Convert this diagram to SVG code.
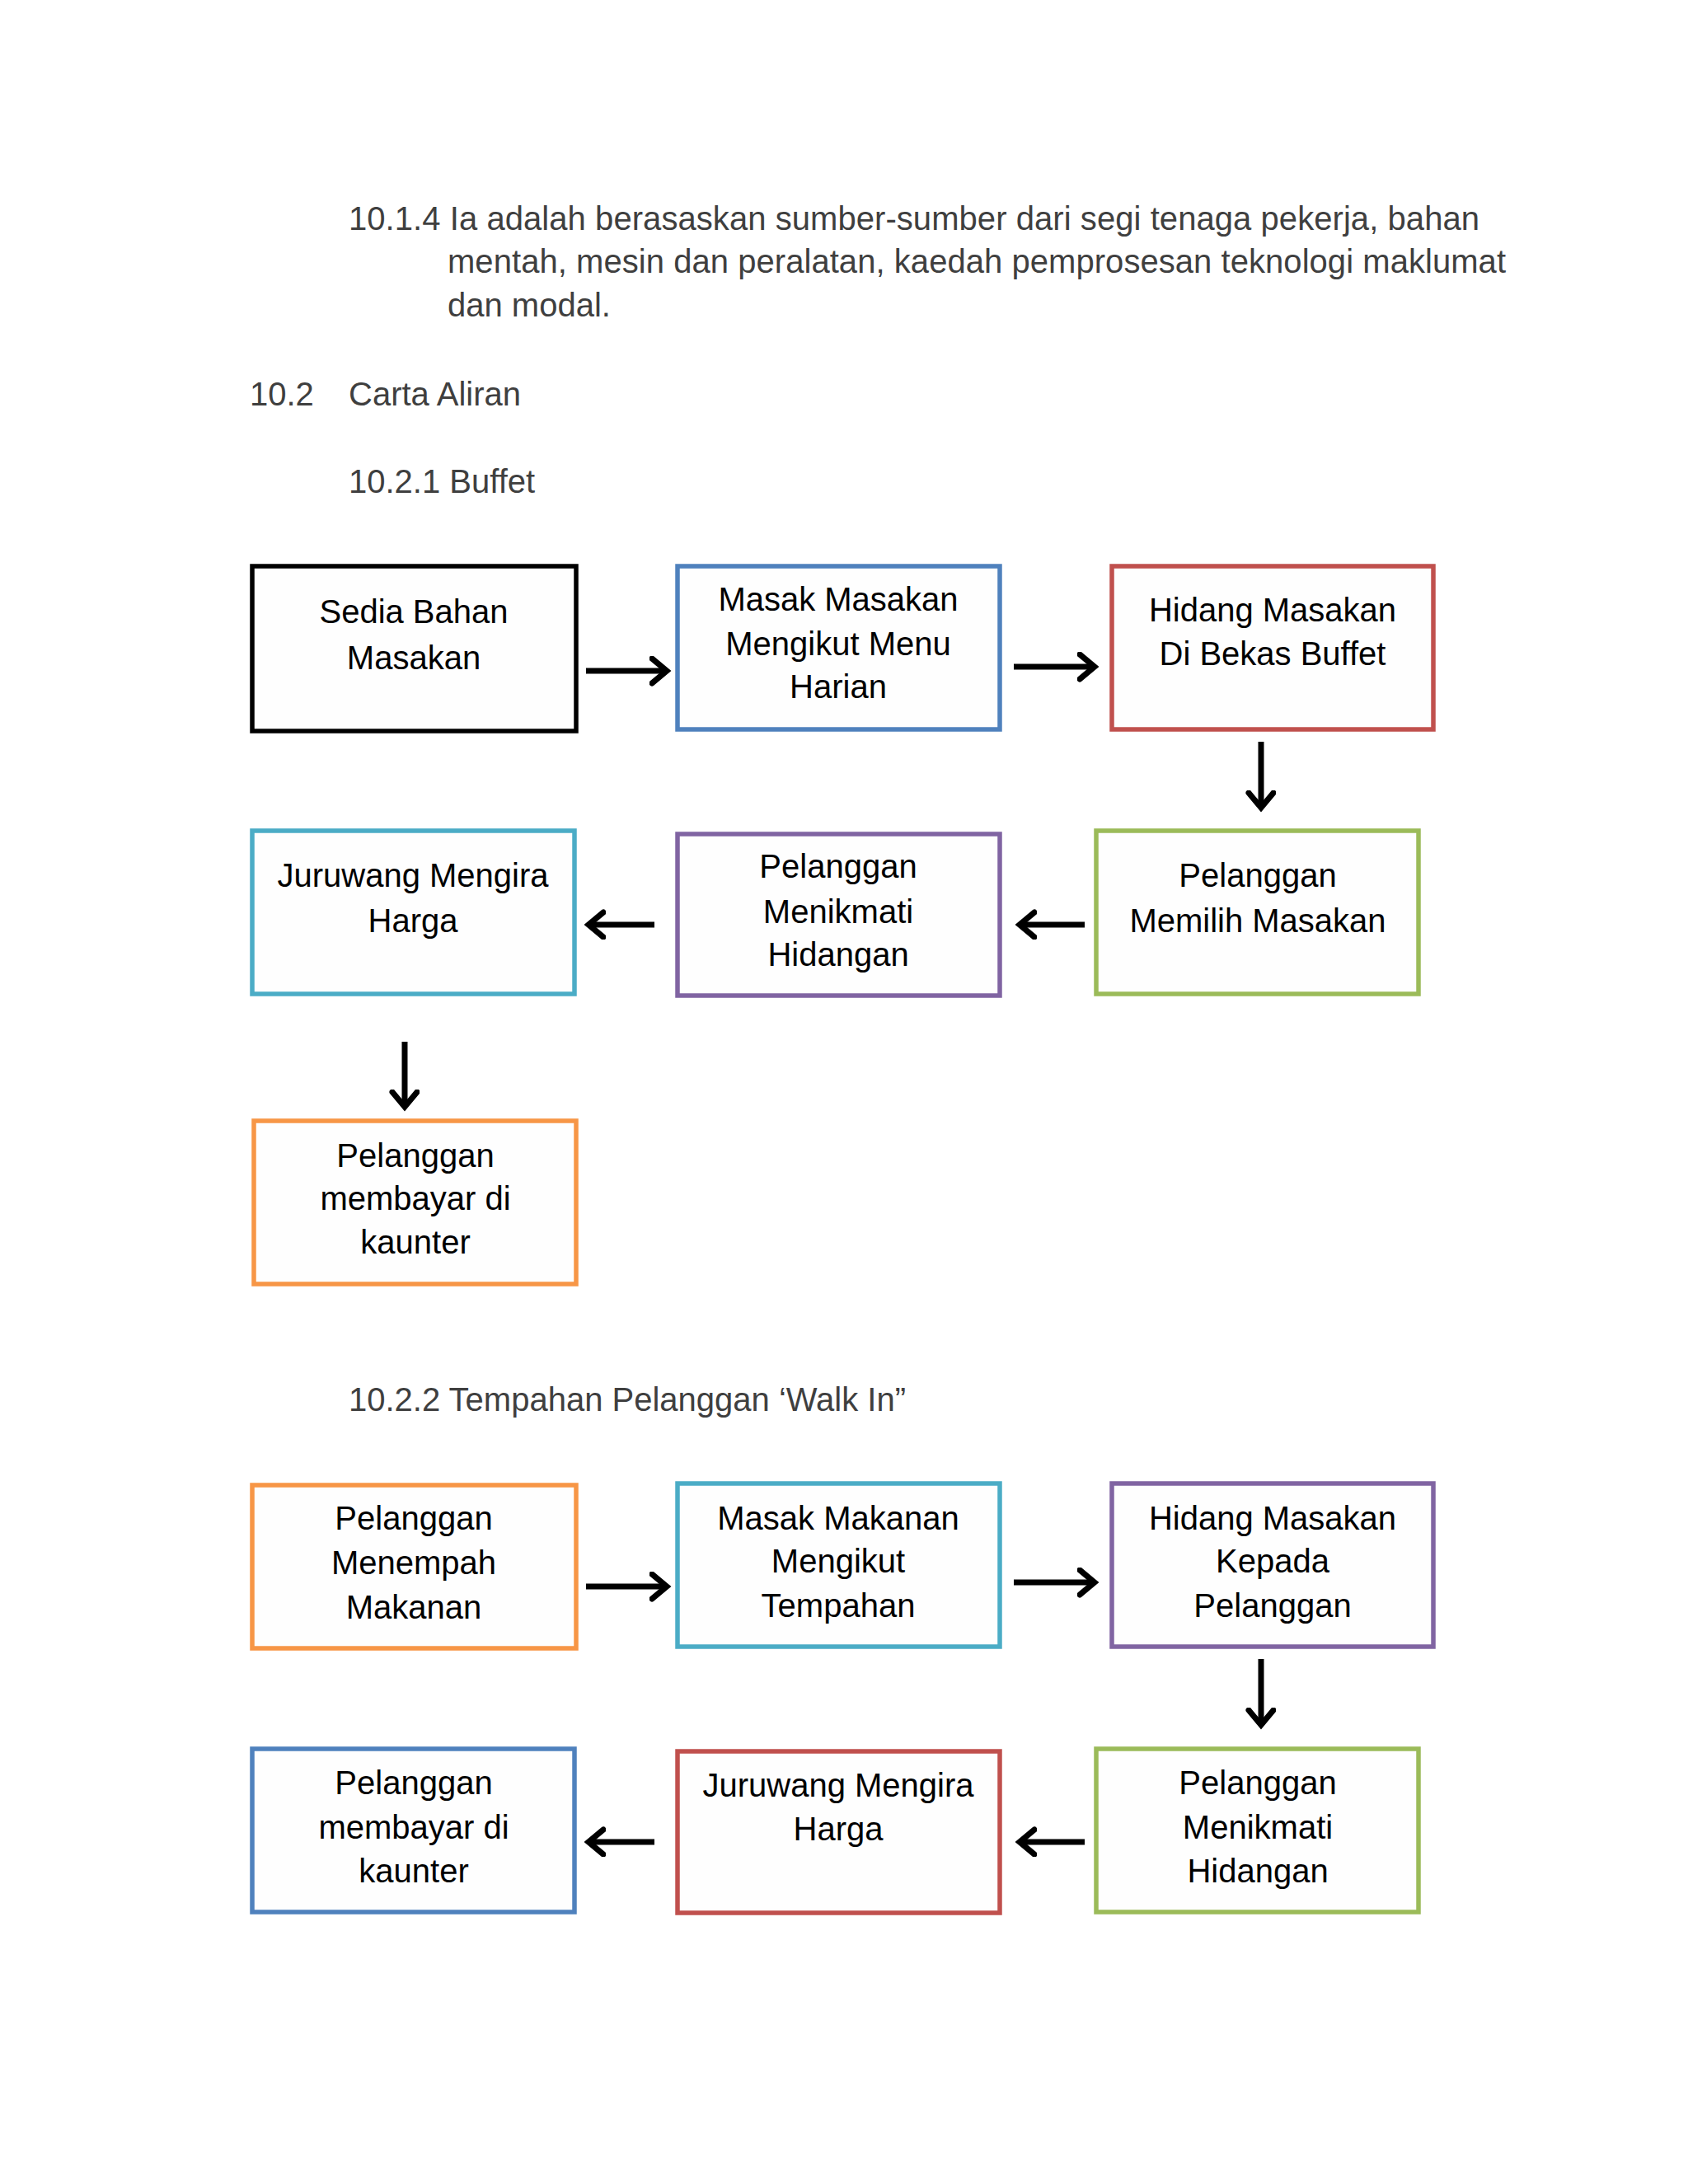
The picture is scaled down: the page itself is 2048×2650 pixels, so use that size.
<svg xmlns="http://www.w3.org/2000/svg" width="2048" height="2650" viewBox="0 0 2048 2650">
<defs>
<style>
.p{font-family:"Liberation Sans",Arial,sans-serif;font-size:40px;fill:#3f3f3f}
.t{font-family:"Liberation Sans",Arial,sans-serif;font-size:40px;fill:#000;text-anchor:middle}
.box{fill:#fefefe;stroke-width:5.5}
.arr{stroke:#000;stroke-width:7;fill:none;marker-end:url(#ah)}
</style>
<marker id="ah" markerUnits="userSpaceOnUse" markerWidth="36" markerHeight="40" refX="17" refY="18" orient="auto">
<path d="M3,3 L21,18 L3,33" fill="none" stroke="#000" stroke-width="7" stroke-linecap="round" stroke-linejoin="miter"/>
</marker>
</defs>
<rect width="2048" height="2650" fill="#fff"/>
<text class="p" x="423" y="279" textLength="1372" lengthAdjust="spacing">10.1.4 Ia adalah berasaskan sumber-sumber dari segi tenaga pekerja, bahan</text>
<text class="p" x="543" y="331" textLength="1284" lengthAdjust="spacing">mentah, mesin dan peralatan, kaedah pemprosesan teknologi maklumat</text>
<text class="p" x="543" y="384">dan modal.</text>
<text class="p" x="303" y="492">10.2</text>
<text class="p" x="423" y="492">Carta Aliran</text>
<text class="p" x="423" y="598">10.2.1 Buffet</text>
<text class="p" x="423" y="1712">10.2.2 Tempahan Pelanggan ‘Walk In”</text>

<g id="connectors">
<line class="arr" x1="711" y1="814" x2="805" y2="814"/>
<line class="arr" x1="1230" y1="809" x2="1324" y2="809"/>
<line class="arr" x1="1530" y1="900" x2="1530" y2="976"/>
<line class="arr" x1="1316" y1="1122" x2="1241" y2="1122"/>
<line class="arr" x1="794" y1="1122" x2="718" y2="1122"/>
<line class="arr" x1="491" y1="1264" x2="491" y2="1339"/>
<line class="arr" x1="711" y1="1925" x2="805" y2="1925"/>
<line class="arr" x1="1230" y1="1920" x2="1324" y2="1920"/>
<line class="arr" x1="1530" y1="2013" x2="1530" y2="2089"/>
<line class="arr" x1="1316" y1="2235" x2="1241" y2="2235"/>
<line class="arr" x1="794" y1="2235" x2="718" y2="2235"/>
</g>

<g id="nA"><rect class="box" x="306" y="687" width="393" height="200" stroke="#000" stroke-width="7"/>
<text class="t" x="502" y="756">Sedia Bahan</text><text class="t" x="502" y="812">Masakan</text></g>
<g id="nB"><rect class="box" x="822" y="687" width="391" height="198" stroke="#4f81bd"/>
<text class="t" x="1017" y="741">Masak Masakan</text><text class="t" x="1017" y="795">Mengikut Menu</text><text class="t" x="1017" y="847">Harian</text></g>
<g id="nC"><rect class="box" x="1349" y="687" width="390" height="198" stroke="#c0504d"/>
<text class="t" x="1544" y="754">Hidang Masakan</text><text class="t" x="1544" y="807">Di Bekas Buffet</text></g>
<g id="nD"><rect class="box" x="306" y="1008" width="391" height="198" stroke="#4bacc6"/>
<text class="t" x="501" y="1076">Juruwang  Mengira</text><text class="t" x="501" y="1131">Harga</text></g>
<g id="nE"><rect class="box" x="822" y="1012" width="391" height="196" stroke="#8064a2"/>
<text class="t" x="1017" y="1065">Pelanggan</text><text class="t" x="1017" y="1120">Menikmati</text><text class="t" x="1017" y="1172">Hidangan</text></g>
<g id="nF"><rect class="box" x="1330" y="1008" width="391" height="198" stroke="#9bbb59"/>
<text class="t" x="1526" y="1076">Pelanggan</text><text class="t" x="1526" y="1131">Memilih Masakan</text></g>
<g id="nG"><rect class="box" x="308" y="1360" width="391" height="198" stroke="#f79646"/>
<text class="t" x="504" y="1416">Pelanggan</text><text class="t" x="504" y="1468">membayar di</text><text class="t" x="504" y="1521">kaunter</text></g>

<g id="nH"><rect class="box" x="306" y="1802" width="393" height="198" stroke="#f79646"/>
<text class="t" x="502" y="1856">Pelanggan</text><text class="t" x="502" y="1910">Menempah</text><text class="t" x="502" y="1964">Makanan</text></g>
<g id="nI"><rect class="box" x="822" y="1800" width="391" height="198" stroke="#4bacc6"/>
<text class="t" x="1017" y="1856">Masak  Makanan</text><text class="t" x="1017" y="1908">Mengikut</text><text class="t" x="1017" y="1962">Tempahan</text></g>
<g id="nJ"><rect class="box" x="1349" y="1800" width="390" height="198" stroke="#8064a2"/>
<text class="t" x="1544" y="1856">Hidang Masakan</text><text class="t" x="1544" y="1908">Kepada</text><text class="t" x="1544" y="1962">Pelanggan</text></g>
<g id="nK"><rect class="box" x="306" y="2122" width="391" height="198" stroke="#4f81bd"/>
<text class="t" x="502" y="2177">Pelanggan</text><text class="t" x="502" y="2231">membayar di</text><text class="t" x="502" y="2284">kaunter</text></g>
<g id="nL"><rect class="box" x="822" y="2125" width="391" height="196" stroke="#c0504d"/>
<text class="t" x="1017" y="2180">Juruwang  Mengira</text><text class="t" x="1017" y="2233">Harga</text></g>
<g id="nM"><rect class="box" x="1330" y="2122" width="391" height="198" stroke="#9bbb59"/>
<text class="t" x="1526" y="2177">Pelanggan</text><text class="t" x="1526" y="2231">Menikmati</text><text class="t" x="1526" y="2284">Hidangan</text></g>
</svg>
